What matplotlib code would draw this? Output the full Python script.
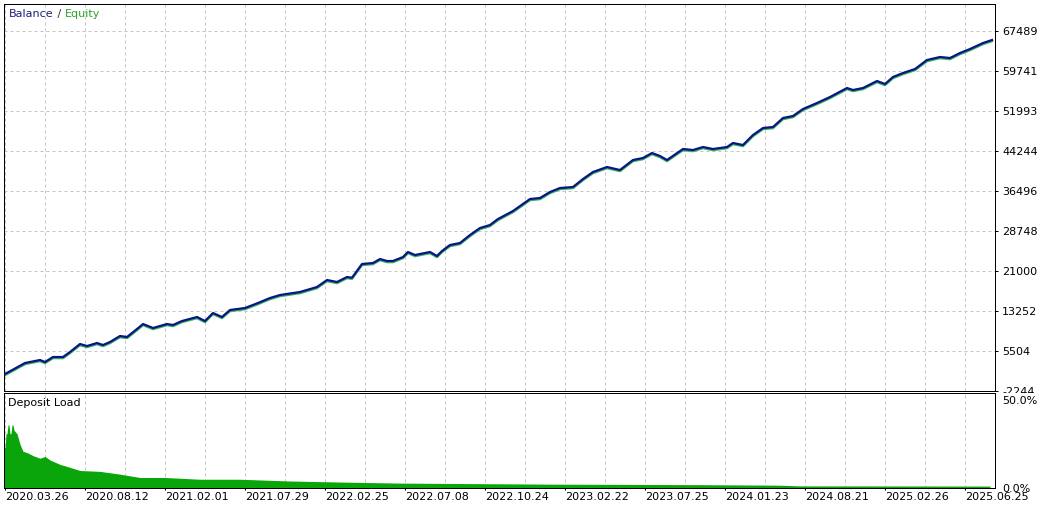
import matplotlib
matplotlib.use("Agg")
import matplotlib.pyplot as plt
from matplotlib.patches import Rectangle
import matplotlib.transforms as mtransforms

plt.rcParams['font.family'] = ['DejaVu Sans']
plt.rcParams['lines.scale_dashes'] = False

W, H, DPI = 1050, 508, 100

# ---------------- data ----------------
# chart position of each deal (deal index on the tester's x scale) and balance
bal_x = [5, 25, 40, 45, 53, 63, 70, 80, 87, 97, 103, 110, 120, 127, 137, 143, 153,
         167, 173, 182, 197, 205, 213, 222, 230, 245, 258, 270, 280, 300, 317, 327,
         337, 347, 352, 362, 373, 380, 387, 393, 403, 408, 415, 430, 437, 442, 450,
         460, 470, 480, 490, 498, 513, 530, 540, 550, 560, 573, 583, 593, 607, 620,
         633, 643, 652, 660, 667, 683, 693, 703, 713, 727, 733, 743, 753, 763, 773,
         783, 793, 803, 817, 830, 847, 853, 863, 877, 885, 893, 903, 915, 927, 940,
         950, 960, 970, 983, 992]
balance = [1049, 3180, 3761, 3373, 4342, 4342, 5310, 6860, 6473, 7054, 6666, 7247,
           8410, 8216, 9765, 10734, 9959, 10734, 10540, 11315, 12090, 11315, 12865,
           12090, 13446, 13833, 14802, 15770, 16351, 16932, 17901, 19257, 18869,
           19838, 19700, 22356, 22550, 23324, 22937, 22937, 23712, 24680, 24099,
           24680, 23906, 24874, 26036, 26424, 27973, 29329, 29910, 31072, 32622,
           34946, 35140, 36302, 37077, 37271, 38820, 40176, 41145, 40564, 42501,
           42888, 43857, 43276, 42501, 44631, 44438, 45019, 44631, 45019, 45794,
           45406, 47343, 48699, 48893, 50636, 51024, 52379, 53542, 54704, 56447,
           56060, 56447, 57803, 57222, 58578, 59353, 60127, 61871, 62452, 62258,
           63227, 64001, 65164, 65745]

# deposit load (%)
load_x = [4, 5, 6, 7, 8, 9, 10, 11, 12, 13, 14, 17, 20, 23, 28, 33, 40, 45, 50, 60,
          70, 80, 100, 120, 140, 165, 200, 240, 290, 340, 400, 550, 700, 780, 800, 990]
load_pct = [23, 23, 31, 31, 36, 36, 31, 31, 36, 36, 33, 31, 25, 21, 20, 18.5, 17, 18,
            16, 13.5, 11.8, 10, 9.5, 7.9, 6, 6, 5, 5, 4, 3.4, 2.8, 2.2, 1.9, 1.6, 1.2, 1.1]

y_tick_vals = [-2244, 5504, 13252, 21000, 28748, 36496, 44244, 51993, 59741, 67489]
y_tick_labels = ["-2244", "5504", "13252", "21000", "28748", "36496", "44244",
                 "51993", "59741", "67489"]

date_ticks = [5, 85, 165, 245, 325, 405, 485, 565, 645, 725, 805, 885, 965]
date_labels = ["2020.03.26", "2020.08.12", "2021.02.01", "2021.07.29", "2022.02.25",
               "2022.07.08", "2022.10.24", "2023.02.22", "2023.07.25", "2024.01.23",
               "2024.08.21", "2025.02.26", "2025.06.25"]
minor_grid = [45, 125, 205, 285, 365, 445, 525, 605, 685, 765, 845, 925]

load_ticks = [0, 50]
load_labels = ["0.0%", "50.0%"]

# ---------------- styles ----------------
BAL_C = "#0a1482"
EQ_C = "#35b060"
LOAD_C = "#0aa50a"
GRID_C = "#c4c4c4"
FS = 8
px = 72.0 / DPI  # one pixel in points

fig = plt.figure(figsize=(W / DPI, H / DPI), dpi=DPI)
fig.patch.set_facecolor("white")

def rect(l, t, r, b):
    return [l / W, (H - b) / H, (r - l) / W, (b - t) / H]

XL = (4, 995)

# ---------------- top panel ----------------
ax = fig.add_axes(rect(4, 4, 995, 391))
ax.set_xlim(*XL)
step = 7748.1
ax.set_ylim(-2244, -2244 + step * (391 - 4) / 40.0)
ax.plot(bal_x, balance, color=EQ_C, lw=2.2 * px,
        transform=ax.transData + mtransforms.ScaledTranslation(0, -1.2 / DPI, fig.dpi_scale_trans),
        zorder=2)
ax.plot(bal_x, balance, color=BAL_C, lw=2.2 * px, zorder=3)

ax.set_yticks(y_tick_vals)
ax.set_yticklabels(y_tick_labels)
ax.yaxis.tick_right()
ax.tick_params(axis="y", which="both", direction="out", length=3 * px, width=1 * px,
               pad=4 * px, labelsize=FS, colors="black")
ax.set_xticks(date_ticks)
ax.set_xticks(minor_grid, minor=True)
ax.tick_params(axis="x", which="both", length=0, labelbottom=False)
ax.grid(True, which="both", color=GRID_C, lw=1 * px, linestyle=(0, (3 * px, 3 * px)))
for s in ax.spines.values():
    s.set_color("black")
    s.set_linewidth(1.0 * px)

t1 = ax.annotate("Balance", xy=(9 / W, 1 - 14 / H), xycoords="figure fraction",
                 fontsize=FS, color="#1e1e78", va="center", ha="left")
t2 = ax.annotate(" / ", xy=(1, 0), xycoords=t1, fontsize=FS, color="#333333",
                 va="bottom", ha="left")
t3 = ax.annotate("Equity", xy=(1, 0), xycoords=t2, fontsize=FS, color="#2ca02c",
                 va="bottom", ha="left")

# ---------------- lower panel ----------------
ax2 = fig.add_axes(rect(4, 393, 995, 488))
ax2.set_xlim(*XL)
ax2.set_ylim(0, 50 * 95 / 87.5)
# white cover for the area right of the lower panel (hides bottom of -2244 label)
ax2.add_patch(Rectangle((996 / W, 0), 54 / W, (H - 393) / H, transform=fig.transFigure,
                        facecolor="white", edgecolor="none", clip_on=False, zorder=-5))
ax2.fill_between(load_x, load_pct, 0, color=LOAD_C, lw=0, zorder=2)

ax2.set_yticks(load_ticks)
ax2.set_yticklabels(load_labels)
ax2.yaxis.tick_right()
ax2.tick_params(axis="y", direction="out", length=0, pad=7 * px, labelsize=FS)
ax2.set_xticks(date_ticks)
ax2.set_xticklabels(date_labels, ha="left")
ax2.set_xticks(minor_grid, minor=True)
ax2.tick_params(axis="x", which="major", direction="out", length=2 * px, width=1 * px,
                pad=2 * px, labelsize=FS)
ax2.tick_params(axis="x", which="minor", length=0)
ax2.grid(True, axis="x", which="both", color=GRID_C, lw=1 * px,
         linestyle=(0, (3 * px, 3 * px)), zorder=1)
ax2.set_axisbelow(True)
for s in ax2.spines.values():
    s.set_color("black")
    s.set_linewidth(1.0 * px)
ax2.text(0.004, 1 - 10 / 95, "Deposit Load", transform=ax2.transAxes,
         fontsize=FS, color="black", va="center", ha="left")

fig.savefig("out.png", dpi=DPI, facecolor="white")
